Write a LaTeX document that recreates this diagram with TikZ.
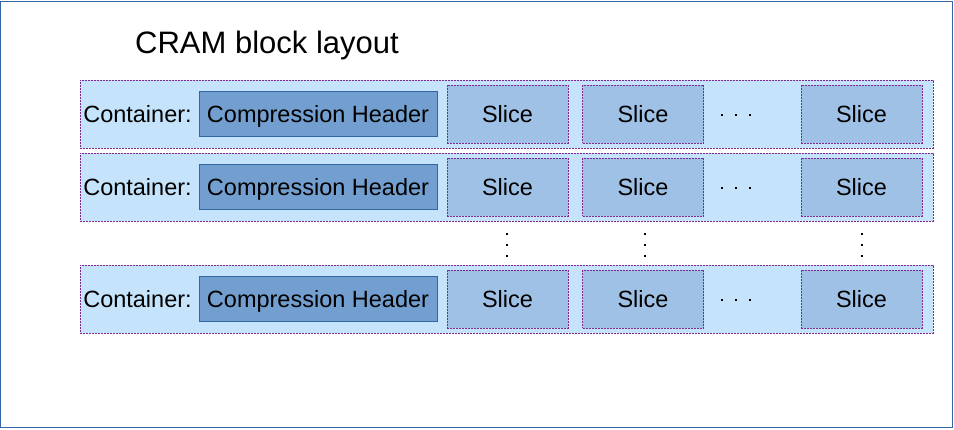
\documentclass[tikz,border=0pt]{standalone}
\usepackage{fontspec}
\setmainfont{Liberation Sans}
\usetikzlibrary{positioning}
\definecolor{framecol}{RGB}{52,101,164}
\definecolor{contfill}{RGB}{197,228,251}
\definecolor{slicefill}{RGB}{159,193,229}
\definecolor{headfill}{RGB}{114,159,207}
\definecolor{dashcol}{RGB}{128,40,140}

\begin{document}
\begin{tikzpicture}[x=1pt,y=-1pt,
	container/.style={draw=dashcol, fill=contfill, line width=0.8pt, dash pattern=on 2pt off 1pt, minimum width=853pt, minimum height=68pt, inner sep=0pt},
	slicebox/.style={draw=dashcol, fill=slicefill, line width=0.8pt, dash pattern=on 2pt off 1pt, minimum width=121pt, minimum height=58pt, inner sep=0pt, font=\fontsize{23.5}{27}\selectfont, text height=16.8pt, text depth=0pt},
	headbox/.style={draw=framecol, fill=headfill, line width=0.8pt, minimum width=238pt, minimum height=45pt, inner sep=0pt, font=\fontsize{23.5}{27}\selectfont, text height=16.8pt, text depth=0pt},
	label/.style={font=\fontsize{23.5}{27}\selectfont, inner sep=0pt, text height=16.8pt, text depth=0pt}]
	\useasboundingbox (0,0) rectangle (954,429);
	\draw [framecol, line width=1.3pt] (0.8,1.2) rectangle (952.6,427.4);
	\node[font=\fontsize{31}{36}\selectfont, anchor=west, inner sep=0pt, text height=22pt, text depth=0pt] (title) at (135,42) {CRAM block layout};
	% container rows
	\foreach \r/\y in {1/114, 2/187, 3/299} {
		\node[container] (cont\r) at (506.5,\y) {};
		\node[label] (name\r) at (137.5,\y) {Container:};
		\node[headbox] (head\r) at (318,\y) {Compression Header};
		\node[slicebox] (slicea\r) at (507.5,\y) {Slice};
		\node[slicebox] (sliceb\r) at (643,\y) {Slice};
		\node[slicebox] (slicec\r) at (861.5,\y) {Slice};
		\foreach \dx in {722,736,750}
			\fill (\dx-1,\y) rectangle (\dx+1,\y+2);
	}
	% vertical dots between rows
	\foreach \dx in {507,645,862}
		\foreach \dy in {234,245,256}
			\fill (\dx-1,\dy-1) rectangle (\dx+1,\dy+1);
\end{tikzpicture}
\end{document}
